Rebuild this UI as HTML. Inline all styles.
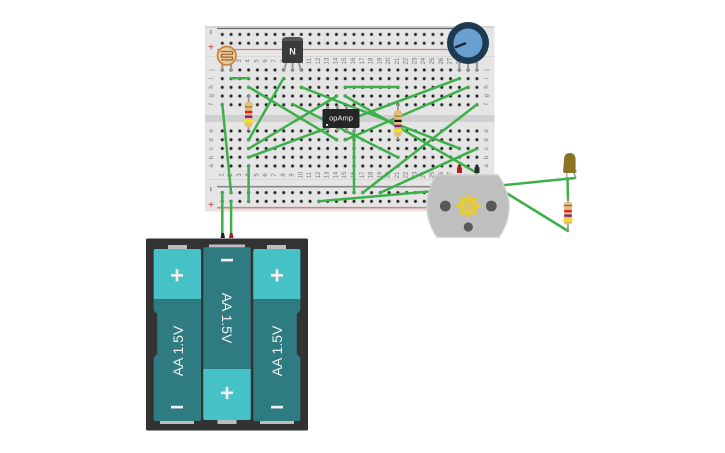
<!DOCTYPE html>
<html><head><meta charset="utf-8"><style>
html,body{margin:0;padding:0;background:#fff;width:725px;height:453px;overflow:hidden}
svg{display:block;font-family:"Liberation Sans",sans-serif}
.n text{font-size:6px;fill:#777;text-anchor:middle;dominant-baseline:central}
.w line{stroke:#3db04a;stroke-width:2.500;stroke-linecap:round}
.l line{stroke:#999;stroke-width:2}
.b{fill:#f0f0f0;text-anchor:middle;font-size:24px;font-weight:bold}
.t{fill:#f0f0f0;text-anchor:middle;font-size:14px;dominant-baseline:central}
</style></head><body>
<svg width="725" height="453" viewBox="0 0 725 453" xmlns="http://www.w3.org/2000/svg">
<defs>
<pattern id="p1" x="217.9" y="30" width="8.78" height="8.8" patternUnits="userSpaceOnUse"><circle cx="4.39" cy="4.4" r="2.1" fill="#c4c4c4"/><circle cx="4.39" cy="4.4" r="1.4" fill="#222"/></pattern>
<pattern id="p2" x="217.9" y="65.6" width="8.78" height="8.7" patternUnits="userSpaceOnUse"><circle cx="4.39" cy="4.35" r="2.1" fill="#c4c4c4"/><circle cx="4.39" cy="4.35" r="1.4" fill="#222"/></pattern>
<pattern id="p3" x="217.9" y="126.6" width="8.78" height="8.75" patternUnits="userSpaceOnUse"><circle cx="4.39" cy="4.37" r="2.1" fill="#c4c4c4"/><circle cx="4.39" cy="4.37" r="1.4" fill="#222"/></pattern>
<pattern id="p4" x="217.9" y="188.3" width="8.78" height="8.7" patternUnits="userSpaceOnUse"><circle cx="4.39" cy="4.35" r="2.1" fill="#c4c4c4"/><circle cx="4.39" cy="4.35" r="1.4" fill="#222"/></pattern>
</defs>

<!-- breadboard -->
<rect x="205" y="26" width="289.500" height="185.500" rx="1" fill="#e5e5e5"/>
<rect x="205" y="26" width="289.500" height="2" fill="#d5d5d5"/>
<rect x="205" y="56" width="289.500" height="1" fill="#d8d8d8"/>
<rect x="205" y="115" width="289.500" height="7" fill="#d0d0d0"/>
<rect x="205" y="179" width="289.500" height="1" fill="#d8d8d8"/>
<line x1="217" y1="28.500" x2="482" y2="28.500" stroke="#6a6a6a" stroke-width="1.300"/>
<line x1="217" y1="49.500" x2="482" y2="49.500" stroke="#c98585" stroke-width="1.300"/>
<line x1="217" y1="186.700" x2="482" y2="186.700" stroke="#888" stroke-width="1.600"/>
<line x1="217" y1="207.700" x2="482" y2="207.700" stroke="#c98585" stroke-width="1.600"/>
<rect x="218" y="30" width="263" height="17.600" fill="url(#p1)"/>
<rect x="218" y="65.600" width="263" height="43.500" fill="url(#p2)"/>
<rect x="218" y="126.600" width="263" height="43.700" fill="url(#p3)"/>
<rect x="218" y="188.300" width="263" height="17.400" fill="url(#p4)"/>

<text transform="translate(211,32) rotate(90)" font-size="9" fill="#333" text-anchor="middle" dominant-baseline="central">−</text>
<text x="211" y="50.500" font-size="10" fill="#b33" text-anchor="middle">+</text>
<text transform="translate(211,189) rotate(90)" font-size="9" fill="#333" text-anchor="middle" dominant-baseline="central">−</text>
<text x="211" y="208" font-size="10" fill="#b33" text-anchor="middle">+</text>

<g class="n">
<text transform="translate(212,70) rotate(-90)">j</text><text transform="translate(212,78.300) rotate(-90)">i</text><text transform="translate(212,87) rotate(-90)">h</text><text transform="translate(212,95.700) rotate(-90)">g</text><text transform="translate(212,104) rotate(-90)">f</text>
<text transform="translate(212,131) rotate(-90)">e</text><text transform="translate(212,140) rotate(-90)">d</text><text transform="translate(212,148.700) rotate(-90)">c</text><text transform="translate(212,157.400) rotate(-90)">b</text><text transform="translate(212,166) rotate(-90)">a</text>
<text transform="translate(487,70) rotate(-90)">j</text><text transform="translate(487,78.300) rotate(-90)">i</text><text transform="translate(487,87) rotate(-90)">h</text><text transform="translate(487,95.700) rotate(-90)">g</text><text transform="translate(487,104) rotate(-90)">f</text>
<text transform="translate(487,131) rotate(-90)">e</text><text transform="translate(487,140) rotate(-90)">d</text><text transform="translate(487,148.700) rotate(-90)">c</text><text transform="translate(487,157.400) rotate(-90)">b</text><text transform="translate(487,166) rotate(-90)">a</text>

<text transform="translate(222.300,61) rotate(-90)">1</text><text transform="translate(231.100,61) rotate(-90)">2</text><text transform="translate(239.900,61) rotate(-90)">3</text><text transform="translate(248.600,61) rotate(-90)">4</text><text transform="translate(257.400,61) rotate(-90)">5</text><text transform="translate(266.200,61) rotate(-90)">6</text><text transform="translate(275,61) rotate(-90)">7</text><text transform="translate(283.800,61) rotate(-90)">8</text><text transform="translate(292.500,61) rotate(-90)">9</text><text transform="translate(301.300,61) rotate(-90)">10</text><text transform="translate(310.100,61) rotate(-90)">11</text><text transform="translate(318.900,61) rotate(-90)">12</text><text transform="translate(327.700,61) rotate(-90)">13</text><text transform="translate(336.400,61) rotate(-90)">14</text><text transform="translate(345.200,61) rotate(-90)">15</text><text transform="translate(354,61) rotate(-90)">16</text><text transform="translate(362.800,61) rotate(-90)">17</text><text transform="translate(371.600,61) rotate(-90)">18</text><text transform="translate(380.300,61) rotate(-90)">19</text><text transform="translate(389.100,61) rotate(-90)">20</text><text transform="translate(397.900,61) rotate(-90)">21</text><text transform="translate(406.700,61) rotate(-90)">22</text><text transform="translate(415.500,61) rotate(-90)">23</text><text transform="translate(424.200,61) rotate(-90)">24</text><text transform="translate(433,61) rotate(-90)">25</text><text transform="translate(441.800,61) rotate(-90)">26</text><text transform="translate(450.600,61) rotate(-90)">27</text><text transform="translate(459.400,61) rotate(-90)">28</text><text transform="translate(468.100,61) rotate(-90)">29</text><text transform="translate(476.900,61) rotate(-90)">30</text>

<text transform="translate(222.300,175) rotate(-90)">1</text><text transform="translate(231.100,175) rotate(-90)">2</text><text transform="translate(239.900,175) rotate(-90)">3</text><text transform="translate(248.600,175) rotate(-90)">4</text><text transform="translate(257.400,175) rotate(-90)">5</text><text transform="translate(266.200,175) rotate(-90)">6</text><text transform="translate(275,175) rotate(-90)">7</text><text transform="translate(283.800,175) rotate(-90)">8</text><text transform="translate(292.500,175) rotate(-90)">9</text><text transform="translate(301.300,175) rotate(-90)">10</text><text transform="translate(310.100,175) rotate(-90)">11</text><text transform="translate(318.900,175) rotate(-90)">12</text><text transform="translate(327.700,175) rotate(-90)">13</text><text transform="translate(336.400,175) rotate(-90)">14</text><text transform="translate(345.200,175) rotate(-90)">15</text><text transform="translate(354,175) rotate(-90)">16</text><text transform="translate(362.800,175) rotate(-90)">17</text><text transform="translate(371.600,175) rotate(-90)">18</text><text transform="translate(380.300,175) rotate(-90)">19</text><text transform="translate(389.100,175) rotate(-90)">20</text><text transform="translate(397.900,175) rotate(-90)">21</text><text transform="translate(406.700,175) rotate(-90)">22</text><text transform="translate(415.500,175) rotate(-90)">23</text><text transform="translate(424.200,175) rotate(-90)">24</text><text transform="translate(433,175) rotate(-90)">25</text><text transform="translate(441.800,175) rotate(-90)">26</text><text transform="translate(450.600,175) rotate(-90)">27</text>
</g>

<!-- component leads -->
<g class="l">
<line x1="222.300" y1="62" x2="222.300" y2="71"/><line x1="231.100" y1="62" x2="231.100" y2="71"/>
<line x1="287" y1="60" x2="283.800" y2="71"/><line x1="292.500" y1="60" x2="292.500" y2="71"/><line x1="298" y1="60" x2="301.300" y2="71"/>
<line x1="459.400" y1="58" x2="459.400" y2="71"/><line x1="468.100" y1="58" x2="468.100" y2="71"/><line x1="476.900" y1="58" x2="476.900" y2="71"/>
</g>

<!-- wires -->
<g class="w">
<line x1="231" y1="78.300" x2="249" y2="78.300"/>
<line x1="283.500" y1="78.300" x2="248.600" y2="140"/>
<line x1="248.600" y1="148.700" x2="337" y2="96"/>
<line x1="248.600" y1="157.400" x2="460" y2="78.300"/>
<line x1="248.600" y1="87" x2="337" y2="140"/>
<line x1="301" y1="87" x2="460" y2="148.700"/>
<line x1="292.500" y1="104" x2="397.900" y2="157.400"/>
<line x1="345" y1="96" x2="477" y2="173"/>
<line x1="345.200" y1="87" x2="397.900" y2="87"/>
<line x1="468.100" y1="87" x2="345.200" y2="140"/>
<line x1="476.900" y1="104.500" x2="362.800" y2="192.700"/>
<line x1="476.900" y1="148.700" x2="380.300" y2="192.700"/>
<line x1="354" y1="131" x2="354" y2="192.700"/>
<line x1="318.900" y1="201.300" x2="435" y2="191"/>
<line x1="222.300" y1="104" x2="231.100" y2="192.700"/>
<line x1="248.600" y1="166" x2="248.600" y2="201.300"/>
<line x1="222.300" y1="192.700" x2="222.300" y2="236"/>
<line x1="231.100" y1="201.300" x2="231.100" y2="236"/>
<line x1="505" y1="185" x2="575" y2="178"/>
<line x1="567.500" y1="178" x2="568" y2="200"/>
<line x1="508" y1="194" x2="568" y2="231"/>
</g>

<!-- photoresistor -->
<circle cx="226.800" cy="55.700" r="9.300" fill="#e6c89a" stroke="#c8803c" stroke-width="1.600"/>
<path d="M221 51.500h11.500v2.800h-11v2.800h11v2.800h-11.500" fill="none" stroke="#a8652c" stroke-width="1.200"/>

<!-- transistor -->
<path d="M282 40q0-3 6-3h9q6 0 6 3v21q0 2-2 2h-17q-2 0-2-2z" fill="#3a3a3a"/>
<path d="M282 40q0-3 6-3h9q6 0 6 3v1h-21z" fill="#555"/>
<text x="292.500" y="54.500" font-size="9" font-weight="bold" fill="#f0f0f0" text-anchor="middle">N</text>

<!-- potentiometer -->
<circle cx="468" cy="43" r="21" fill="#1e3a50"/>
<circle cx="468" cy="43" r="14.500" fill="#6a9fd2"/>
<path d="M465 43.500L456 47" stroke="#1a2530" stroke-width="2.500" stroke-linecap="round"/>

<!-- resistors -->
<g>
<line x1="248.600" y1="95" x2="248.600" y2="131" stroke="#999" stroke-width="1.800"/>
<path d="M244.300 106q0-4.300 4.300-4.300t4.300 4.300l-.8 2.500v11l.8 2.500q0 5-4.300 5.500t-4.300-5.500l.8-2.500v-11z" fill="#e3bd7d"/>
<rect x="245" y="106.300" width="7.300" height="1.300" fill="#9a7a3a"/><rect x="245" y="110.800" width="7.300" height="2.400" fill="#e02020"/><rect x="245" y="115.500" width="7.300" height="2.400" fill="#8a1a8a"/><rect x="244.300" y="119.700" width="8.600" height="2.800" fill="#f2e21a"/>
<line x1="397.900" y1="104" x2="397.900" y2="140" stroke="#999" stroke-width="1.800"/>
<path d="M393.500 115q0-5 4.400-5t4.400 5l-.8 2.500v11l.8 2.500q0 5-4.400 5.700t-4.400-5.700l.8-2.500v-11z" fill="#e3bd7d"/>
<rect x="394.300" y="115.500" width="7.300" height="1.200" fill="#9a7a3a"/><rect x="394.300" y="119.800" width="7.300" height="2.200" fill="#111"/><rect x="394.300" y="124.800" width="7.300" height="2.400" fill="#8a1a8a"/><rect x="393.500" y="129.300" width="8.800" height="2.800" fill="#f2e21a"/>
<line x1="568" y1="198" x2="568" y2="231" stroke="#999" stroke-width="1.800"/>
<path d="M563.400 206q0-4.300 4.600-4.300t4.600 4.300l-.8 2v11l.8 2q0 3-4.600 3.500t-4.600-3.500l.8-2v-11z" fill="#e3bd7d"/>
<rect x="564.200" y="205" width="7.600" height="1.200" fill="#8a6a30"/><rect x="564.200" y="210" width="7.600" height="2.300" fill="#e02020"/><rect x="564.200" y="214.500" width="7.600" height="2.300" fill="#8a1a8a"/><rect x="563.400" y="218.500" width="9.200" height="3" fill="#f2e21a"/>
</g>

<!-- op amp -->
<g fill="#999"><rect x="326" y="106" width="3" height="3"/><rect x="336" y="106" width="3" height="3"/><rect x="345" y="106" width="3" height="3"/><rect x="353" y="106" width="3" height="3"/><rect x="326" y="128" width="3" height="3"/><rect x="336" y="128" width="3" height="3"/><rect x="345" y="128" width="3" height="3"/><rect x="353" y="128" width="3" height="3"/></g>
<rect x="322.500" y="109" width="37" height="19" rx="1.500" fill="#252525"/>
<text x="341" y="120.500" font-size="7.500" fill="#f2f2f2" text-anchor="middle">opAmp</text>
<circle cx="327" cy="125" r="1.100" fill="#eee"/>

<!-- motor pins -->
<path d="M457 173v-5q0-1 1-1v-1h3v1q1 0 1 1v5z" fill="#b51d1d"/>
<path d="M474.500 173v-5q0-1 1-1v-1h3v1q1 0 1 1v5z" fill="#2b2b2b"/>
<!-- motor -->
<path d="M436 175H498Q509 192 509 206Q509 222 499 237H437Q427 222 427 206Q427 192 436 175z" fill="#bfbfbf" stroke="#cecece" stroke-width="1.500"/>
<circle cx="445.300" cy="206" r="5.400" fill="#585858"/>
<circle cx="491.300" cy="206" r="5.400" fill="#585858"/>
<circle cx="468.300" cy="227" r="4.600" fill="#585858"/>
<circle cx="468.300" cy="206" r="9" fill="#e7cc33"/>
<g stroke="#e7cc33" stroke-width="3"><line x1="468.300" y1="194" x2="468.300" y2="218"/><line x1="456.300" y1="206" x2="480.300" y2="206"/><line x1="459.800" y1="197.500" x2="476.800" y2="214.500"/><line x1="459.800" y1="214.500" x2="476.800" y2="197.500"/></g>
<circle cx="468.300" cy="206" r="5.200" fill="#d6c566"/>

<!-- LED -->
<line x1="567" y1="171" x2="566.500" y2="178" stroke="#aaa" stroke-width="1.500"/>
<path d="M573 171L576 178" stroke="#999" stroke-width="1.500"/>
<path d="M564 160q0-7 5.800-7t5.800 7v10l1 1q0 2-2 2h-10q-1.500 0-1.500-2z" fill="#8a7423"/>

<!-- battery -->
<path d="M220.500 238l1-5h2.500l1 5z" fill="#222"/>
<path d="M229 238l1-5h2.500l1 5z" fill="#b01c1c"/>
<rect x="146" y="238.500" width="162" height="192" rx="1.500" fill="#333"/>
<rect x="168" y="245" width="19" height="5" fill="#bdbdbd"/>
<rect x="267" y="245" width="19" height="5" fill="#bdbdbd"/>
<rect x="209" y="244.500" width="36" height="4" fill="#bdbdbd"/>
<rect x="160" y="419" width="34" height="5" fill="#bdbdbd"/>
<rect x="260" y="419" width="34" height="5" fill="#bdbdbd"/>
<rect x="217.500" y="418" width="19" height="6" fill="#bdbdbd"/>

<rect x="153.700" y="249" width="47.300" height="172" rx="2" fill="#2f7b82"/>
<path d="M153.700 299V251q0-2 2-2H199q2 0 2 2V299z" fill="#46c1c6"/>
<rect x="203.300" y="247.300" width="47.400" height="172.700" rx="2" fill="#2f7b82"/>
<path d="M203.300 369h47.400V418q0 2-2 2H205.300q-2 0-2-2z" fill="#46c1c6"/>
<rect x="253.300" y="249" width="47" height="172" rx="2" fill="#2f7b82"/>
<path d="M253.300 299V251q0-2 2-2H298.300q2 0 2 2V299z" fill="#46c1c6"/>
<path d="M153 310l4.200 4v40l-4.200 4z" fill="#333"/>
<path d="M301 310l-4.200 4v40l4.200 4z" fill="#333"/>

<text class="b" x="177" y="283.500">+</text>
<text class="b" x="177" y="415">−</text>
<text class="b" x="227" y="268">−</text>
<text class="b" x="227" y="401">+</text>
<text class="b" x="277" y="283.500">+</text>
<text class="b" x="277" y="415">−</text>
<text class="t" transform="translate(178,351) rotate(-90)">AA 1.5V</text>
<text class="t" transform="translate(227,318) rotate(90)">AA 1.5V</text>
<text class="t" transform="translate(277,351) rotate(-90)">AA 1.5V</text>
</svg>
</body></html>
